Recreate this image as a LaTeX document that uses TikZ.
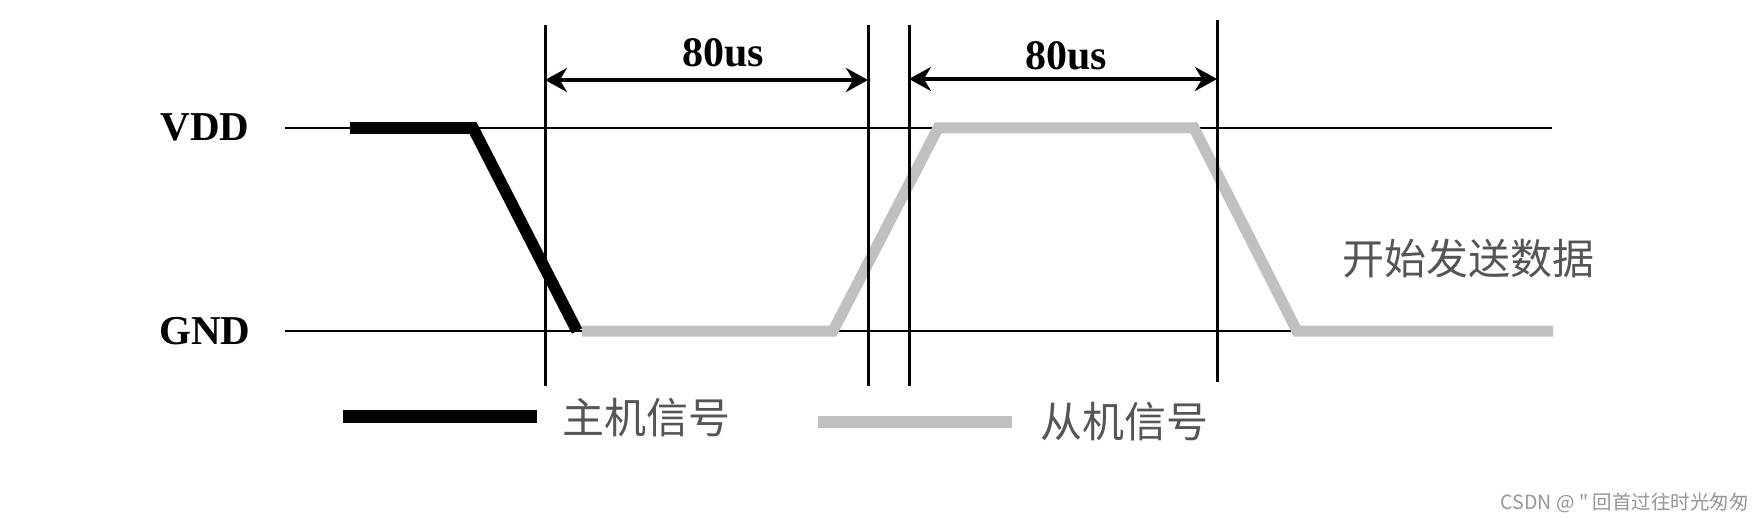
\documentclass[tikz,border=0pt]{standalone}
\usepackage{fontspec}
\setmainfont{Liberation Serif}
\newfontfamily\cjk{Noto Sans CJK SC}
\newfontfamily\wmfont{Noto Sans CJK SC}
\usetikzlibrary{arrows.meta}
\definecolor{sgray}{RGB}{192,192,192}
\definecolor{txtgray}{RGB}{85,85,85}
\definecolor{wmgray}{RGB}{150,150,150}
\tikzset{
  levelline/.style={line width=1pt, black},
  guide/.style={line width=1.5pt, black},
  dimarrow/.style={line width=1.8pt, black, {Stealth[length=11pt,width=12pt]}-{Stealth[length=11pt,width=12pt]}},
  hostsig/.style={line width=5.8pt, black, line join=miter},
  slavesig/.style={line width=5.5pt, sgray, line join=miter},
  levellabel/.style={font=\fontsize{20.5}{24}\selectfont\bfseries, inner sep=0pt},
  timelabel/.style={font=\fontsize{21}{24}\selectfont\bfseries, inner sep=0pt},
  cjklabel/.style={font=\cjk\fontsize{21}{24}\selectfont, text=txtgray, inner sep=0pt},
  wmlabel/.style={font=\wmfont\fontsize{9.75}{12}\selectfont, text=wmgray, inner sep=0pt}
}
\begin{document}
\begin{tikzpicture}[x=0.5pt,y=-0.5pt]
\useasboundingbox (0,0) rectangle (1763,519);
\fill[white] (0,0) rectangle (1763,519);

% level labels
\node[levellabel] (vdd) at (205,127) {VDD};
\node[levellabel] (gnd) at (205,331) {GND};

% level lines
\coordinate (vddL) at (285,128);
\coordinate (vddR) at (1552,128);
\coordinate (gndL) at (285,331);
\coordinate (gndR) at (1552,331);
\draw[levelline] (vddL) -- (vddR);
\draw[levelline] (gndL) -- (gndR);

% host signal
\coordinate (h0) at (350,128);
\coordinate (h1) at (473,128);
\coordinate (h2) at (577,331);
\draw[hostsig] (h0) -- (h1) -- (h2);

% slave signal
\coordinate (s0) at (582,331);
\coordinate (s1) at (833,331);
\coordinate (s2) at (938,128);
\coordinate (s3) at (1194,128);
\coordinate (s4) at (1297,331);
\coordinate (s5) at (1553,331);
\draw[slavesig] (s0) -- (s1) -- (s2) -- (s3) -- (s4) -- (s5);

% vertical guides
\coordinate (g1t) at (545,25);  \coordinate (g1b) at (545,386);
\coordinate (g2t) at (868,25);  \coordinate (g2b) at (868,386);
\coordinate (g3t) at (909,25);  \coordinate (g3b) at (909,386);
\coordinate (g4t) at (1217,20); \coordinate (g4b) at (1217,382);
\draw[guide] (g1t) -- (g1b);
\draw[guide] (g2t) -- (g2b);
\draw[guide] (g3t) -- (g3b);
\draw[guide] (g4t) -- (g4b);

% dimension arrows
\coordinate (a1l) at (545,80);  \coordinate (a1r) at (868,80);
\coordinate (a2l) at (909,79);  \coordinate (a2r) at (1217,79);
\draw[dimarrow] (a1l) -- (a1r);
\draw[dimarrow] (a2l) -- (a2r);
\node[timelabel] (t1) at (723,53) {80us};
\node[timelabel] (t2) at (1066,56) {80us};

% start label
\node[cjklabel] (start) at (1468,259) {开始发送数据};

% legend
\coordinate (lh0) at (343,416); \coordinate (lh1) at (537,416);
\draw[line width=6.5pt, black] (lh0) -- (lh1);
\node[cjklabel, anchor=west] (hostlbl) at (562,418) {主机信号};
\coordinate (ls0) at (818,422); \coordinate (ls1) at (1012,422);
\draw[line width=6pt, sgray] (ls0) -- (ls1);
\node[cjklabel, anchor=west] (slavelbl) at (1040,422) {从机信号};

% watermark
\node[wmlabel, anchor=east] (wm) at (1749,503) {CSDN @ " 回首过往时光匆匆};
\end{tikzpicture}
\end{document}
